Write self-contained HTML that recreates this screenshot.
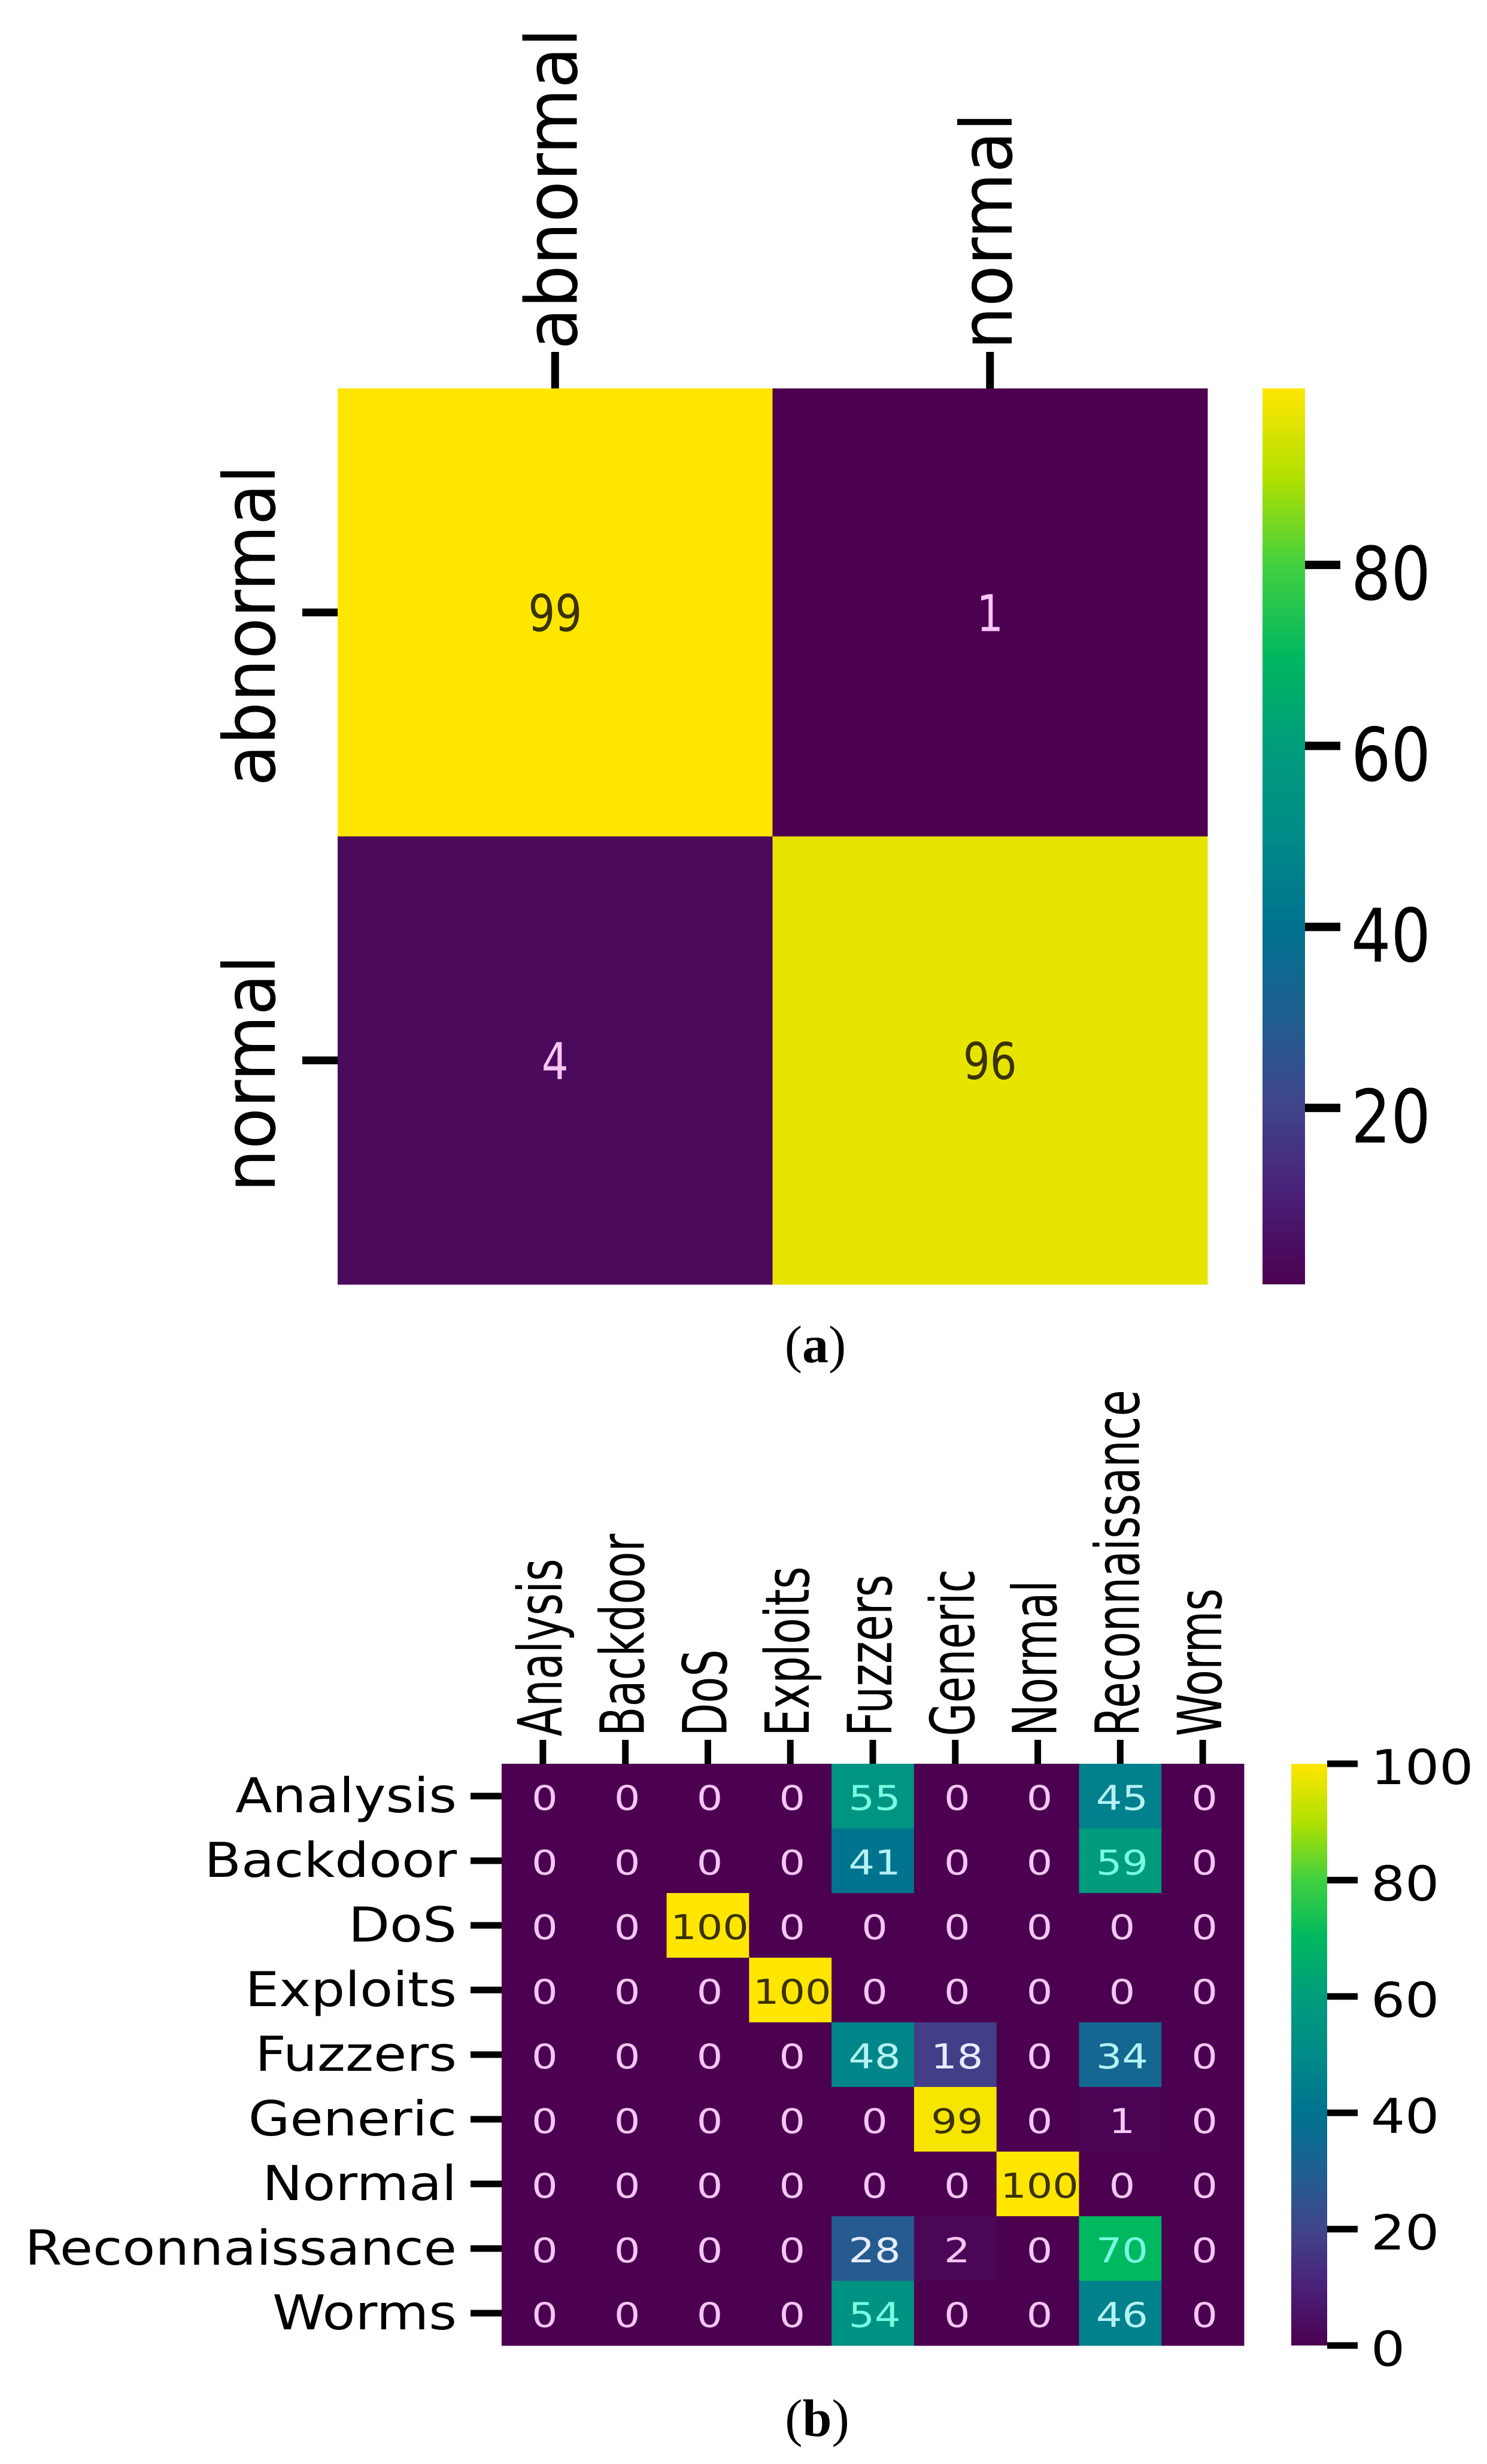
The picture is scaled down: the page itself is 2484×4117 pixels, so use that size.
<!DOCTYPE html>
<html lang="en">
<head>
<meta charset="utf-8">
<title>Confusion matrices</title>
<style>
  html, body { margin: 0; padding: 0; background: #fff; }
  svg { display: block; }
  text { font-family: "DejaVu Sans", "Liberation Sans", sans-serif; fill: #000; }
  text.caption { font-family: "Liberation Serif", serif; }
</style>
</head>
<body>
<svg id="figure" xmlns="http://www.w3.org/2000/svg" width="2484" height="4117" viewBox="0 0 2484 4117">
  <defs>
    <linearGradient id="cmap" x1="0" y1="1" x2="0" y2="0"></linearGradient>
  </defs>
  <rect x="0" y="0" width="2484" height="4117" fill="#ffffff"></rect>
  <g id="panel-a"></g>
  <g id="panel-b"></g>
  <text class="caption" x="1362" y="2276" font-size="88" text-anchor="middle">(<tspan font-weight="bold">a</tspan>)</text>
  <text class="caption" x="1365" y="4070" font-size="88" text-anchor="middle">(<tspan font-weight="bold">b</tspan>)</text>
</svg>
<script>
// ---- Data: panel (a) ----
const binaryLabels = ["abnormal", "normal"];
const binaryValues = [
  [99, 1],
  [4, 96]
];
const binaryColorDomain = [1, 99];
const binaryTickValues = [20, 40, 60, 80];
const binaryAxisDomain = [0.5, 99.5];

// ---- Data: panel (b) ----
const attackLabels = ["Analysis", "Backdoor", "DoS", "Exploits", "Fuzzers", "Generic", "Normal", "Reconnaissance", "Worms"];
const attackValues = [
  [0, 0, 0, 0, 55, 0, 0, 45, 0],
  [0, 0, 0, 0, 41, 0, 0, 59, 0],
  [0, 0, 100, 0, 0, 0, 0, 0, 0],
  [0, 0, 0, 100, 0, 0, 0, 0, 0],
  [0, 0, 0, 0, 48, 18, 0, 34, 0],
  [0, 0, 0, 0, 0, 99, 0, 1, 0],
  [0, 0, 0, 0, 0, 0, 100, 0, 0],
  [0, 0, 0, 0, 28, 2, 0, 70, 0],
  [0, 0, 0, 0, 54, 0, 0, 46, 0]
];
const attackColorDomain = [0, 100];
const attackTickValues = [0, 20, 40, 60, 80, 100];
const attackAxisDomain = [0, 100];

// Colormap as it appears in the reference (saturated viridis)
const colormapStops = ["#4b0050", "#4a2078", "#40458c", "#1f6090", "#00728f", "#008b88", "#009c7c", "#00b860", "#40d040", "#b0e000", "#ffe600"];

const SVG_NS = "http://www.w3.org/2000/svg";

function hexToRgb(h) {
  return [parseInt(h.slice(1, 3), 16), parseInt(h.slice(3, 5), 16), parseInt(h.slice(5, 7), 16)];
}
function colormap(t) {
  const c = Math.max(0, Math.min(1, t)) * (colormapStops.length - 1);
  const i = Math.min(Math.floor(c), colormapStops.length - 2);
  const f = c - i;
  const a = hexToRgb(colormapStops[i]);
  const b = hexToRgb(colormapStops[i + 1]);
  return "rgb(" + a.map((v, k) => Math.round(v + (b[k] - v) * f)).join(",") + ")";
}
function annotationColor(v, t) {
  if (t > 0.9) return "#3a3200";
  if (v < 10) return "#f6c6f4";
  if (t < 0.3) return "#e6ecff";
  if (t < 0.5) return "#b4f2f4";
  return "#78ffe2";
}
function make(tag, parent, attrs) {
  const node = document.createElementNS(SVG_NS, tag);
  for (const k in attrs) node.setAttribute(k, attrs[k]);
  parent.appendChild(node);
  return node;
}
function stretchedText(parent, str, x, y, size, sx, rotated, anchor) {
  const t = make("text", parent, {
    transform: "translate(" + x + " " + y + ") scale(" + sx + " 1)" + (rotated ? " rotate(-90)" : ""),
    "font-size": size,
    "text-anchor": anchor
  });
  t.textContent = str;
  return t;
}

// Build shared gradient
const gradient = document.getElementById("cmap");
colormapStops.forEach((c, i) => {
  make("stop", gradient, { offset: (i / (colormapStops.length - 1)), "stop-color": c });
});

function drawHeatmap(root, cfg, labels, values, colorDomain, tickValues, axisDomain) {
  const n = labels.length;
  const xBand = (cfg.right - cfg.left) / n;
  const yBand = (cfg.bottom - cfg.top) / n;
  const xScale = i => cfg.left + xBand * i;
  const yScale = i => cfg.top + yBand * i;
  const norm = v => (v - colorDomain[0]) / (colorDomain[1] - colorDomain[0]);
  const cbarY = v => cfg.bottom - (v - axisDomain[0]) / (axisDomain[1] - axisDomain[0]) * (cfg.bottom - cfg.top);

  values.forEach((row, r) => {
    row.forEach((v, c) => {
      const cell = make("rect", root, {
        x: xScale(c), y: yScale(r), width: xBand + 0.5, height: yBand + 0.5,
        fill: colormap(norm(v))
      });
      
      
    });
  });
  values.forEach((row, r) => {
    row.forEach((v, c) => {
      const label = stretchedText(root, String(v),
        xScale(c) + xBand / 2 + cfg.cellDx,
        yScale(r) + yBand / 2 + cfg.cellDy,
        cfg.cellSize, cfg.cellSx, false, "middle");
      label.setAttribute("fill", annotationColor(v, norm(v)));
      label.style.fill = annotationColor(v, norm(v));
      
      
    });
  });

  labels.forEach((name, i) => {
    const cx = xScale(i) + xBand / 2;
    const tick = make("rect", root, {
      x: cx - cfg.tickW / 2, y: cfg.top - cfg.xTickLen, width: cfg.tickW, height: cfg.xTickLen, fill: "#000"
    });
    
    
    const xl = stretchedText(root, name, cx + cfg.xLabelDx, cfg.xLabelY, cfg.xLabelSize, cfg.xLabelSx, true, "start");
    
    

    const cy = yScale(i) + yBand / 2;
    const ytick = make("rect", root, {
      x: cfg.left - cfg.yTickLen, y: cy - cfg.tickW / 2, width: cfg.yTickLen, height: cfg.tickW, fill: "#000"
    });
    
    
    const yl = cfg.yRotated
      ? stretchedText(root, name, cfg.yLabelX, cy + cfg.yLabelDy, cfg.xLabelSize, cfg.xLabelSx, true, "middle")
      : stretchedText(root, name, cfg.yLabelX, cy + cfg.yLabelDy, cfg.yLabelSize, cfg.yLabelSx, false, "end");
    
    
  });

  const bar = make("rect", root, {
    x: cfg.barLeft, y: cfg.top, width: cfg.barRight - cfg.barLeft, height: cfg.bottom - cfg.top, fill: "url(#cmap)"
  });
  
  

  tickValues.forEach(v => {
    const y = cbarY(v);
    const t = make("rect", root, {
      x: cfg.barRight, y: y - cfg.barTickW / 2, width: cfg.barTickLen, height: cfg.barTickW, fill: "#000"
    });
    
    
    const l = stretchedText(root, String(v), cfg.barLabelX, y + cfg.barLabelDy, cfg.barLabelSize, cfg.barLabelSx, false, "start");
    
    
  });
}

drawHeatmap(document.getElementById("panel-a"), {
  left: 564, right: 2017, top: 649, bottom: 2146,
  cellSize: 85, cellSx: 0.83, cellDx: 0, cellDy: 31,
  tickW: 13, xTickLen: 61, yTickLen: 59,
  xLabelSize: 113, xLabelSx: 1.06, xLabelY: 584, xLabelDx: 36,
  yRotated: true, yLabelX: 459, yLabelDy: 22,
  barLeft: 2109, barRight: 2180, barTickLen: 59, barTickW: 14,
  barLabelX: 2257, barLabelDy: 58, barLabelSize: 123, barLabelSx: 0.85
}, binaryLabels, binaryValues, binaryColorDomain, binaryTickValues, binaryAxisDomain);

drawHeatmap(document.getElementById("panel-b"), {
  left: 838, right: 2078, top: 2947, bottom: 3919,
  cellSize: 57, cellSx: 1.2, cellDx: 3, cellDy: 23,
  tickW: 11, xTickLen: 40, yTickLen: 52,
  xLabelSize: 72, xLabelSx: 1.41, xLabelY: 2901, xLabelDx: 31,
  yRotated: false, yLabelX: 763, yLabelDy: 27, yLabelSize: 80, yLabelSx: 1.122,
  barLeft: 2157, barRight: 2217, barTickLen: 51, barTickW: 11,
  barLabelX: 2290, barLabelDy: 34, barLabelSize: 80, barLabelSx: 1.122
}, attackLabels, attackValues, attackColorDomain, attackTickValues, attackAxisDomain);
</script>
</body>
</html>
